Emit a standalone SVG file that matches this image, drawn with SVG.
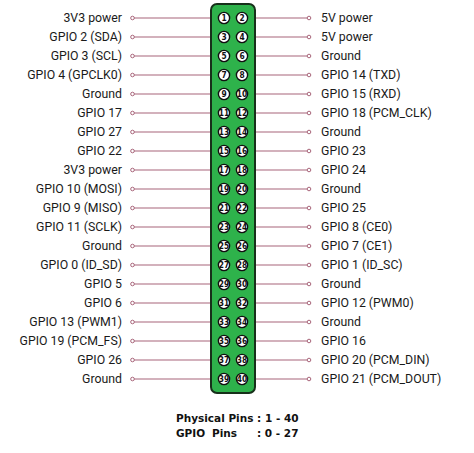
<svg xmlns="http://www.w3.org/2000/svg" width="474" height="453" viewBox="0 0 474 453">
<style>
.lbl{font-family:Roboto,"Liberation Sans",sans-serif;font-size:12.3px;fill:#1a1a1a}
.l{text-anchor:end}
.ln{stroke:#a8657a;stroke-width:1.2;fill:none}
.dot{fill:#fff;stroke:#a8657a;stroke-width:1}
.pin{fill:#fff;stroke:#111;stroke-width:1.4}
.pn{font-family:"DejaVu Sans Condensed","DejaVu Sans","Liberation Sans",sans-serif;font-weight:bold;font-size:8.3px;fill:#111;text-anchor:middle}
.ft{font-family:"DejaVu Sans","Liberation Sans",sans-serif;font-weight:bold;font-size:10.5px;fill:#111}
</style>
<g id="connectors">
<path class="ln" d="M134,18H211M134,37H211M134,56H211M134,75H211M134,94H211M134,113H211M134,132H211M134,151H211M134,170H211M134,189H211M134,208H211M134,227H211M134,246H211M134,265H211M134,284H211M134,303H211M134,322H211M134,341H211M134,360H211M134,379H211"/>
<path class="ln" d="M255,18H307M255,37H307M255,56H307M255,75H307M255,94H307M255,113H307M255,132H307M255,151H307M255,170H307M255,189H307M255,208H307M255,227H307M255,246H307M255,265H307M255,284H307M255,303H307M255,322H307M255,341H307M255,360H307M255,379H307"/>
</g>
<g id="header">
<rect x="211" y="4" width="44" height="389" rx="6" fill="#2eb24b" stroke="#17301a" stroke-width="2"/>
</g>
<g id="pins">
<g id="r1"><circle class="pin" cx="224" cy="18" r="5.6"/><circle class="pin" cx="242" cy="18" r="5.6"/><text class="pn" x="224" y="21">1</text><text class="pn" x="242" y="21">2</text></g>
<g id="r2"><circle class="pin" cx="224" cy="37" r="5.6"/><circle class="pin" cx="242" cy="37" r="5.6"/><text class="pn" x="224" y="40">3</text><text class="pn" x="242" y="40">4</text></g>
<g id="r3"><circle class="pin" cx="224" cy="56" r="5.6"/><circle class="pin" cx="242" cy="56" r="5.6"/><text class="pn" x="224" y="59">5</text><text class="pn" x="242" y="59">6</text></g>
<g id="r4"><circle class="pin" cx="224" cy="75" r="5.6"/><circle class="pin" cx="242" cy="75" r="5.6"/><text class="pn" x="224" y="78">7</text><text class="pn" x="242" y="78">8</text></g>
<g id="r5"><circle class="pin" cx="224" cy="94" r="5.6"/><circle class="pin" cx="242" cy="94" r="5.6"/><text class="pn" x="224" y="97">9</text><text class="pn" x="242" y="97">10</text></g>
<g id="r6"><circle class="pin" cx="224" cy="113" r="5.6"/><circle class="pin" cx="242" cy="113" r="5.6"/><text class="pn" x="224" y="116">11</text><text class="pn" x="242" y="116">12</text></g>
<g id="r7"><circle class="pin" cx="224" cy="132" r="5.6"/><circle class="pin" cx="242" cy="132" r="5.6"/><text class="pn" x="224" y="135">13</text><text class="pn" x="242" y="135">14</text></g>
<g id="r8"><circle class="pin" cx="224" cy="151" r="5.6"/><circle class="pin" cx="242" cy="151" r="5.6"/><text class="pn" x="224" y="154">15</text><text class="pn" x="242" y="154">16</text></g>
<g id="r9"><circle class="pin" cx="224" cy="170" r="5.6"/><circle class="pin" cx="242" cy="170" r="5.6"/><text class="pn" x="224" y="173">17</text><text class="pn" x="242" y="173">18</text></g>
<g id="r10"><circle class="pin" cx="224" cy="189" r="5.6"/><circle class="pin" cx="242" cy="189" r="5.6"/><text class="pn" x="224" y="192">19</text><text class="pn" x="242" y="192">20</text></g>
<g id="r11"><circle class="pin" cx="224" cy="208" r="5.6"/><circle class="pin" cx="242" cy="208" r="5.6"/><text class="pn" x="224" y="211">21</text><text class="pn" x="242" y="211">22</text></g>
<g id="r12"><circle class="pin" cx="224" cy="227" r="5.6"/><circle class="pin" cx="242" cy="227" r="5.6"/><text class="pn" x="224" y="230">23</text><text class="pn" x="242" y="230">24</text></g>
<g id="r13"><circle class="pin" cx="224" cy="246" r="5.6"/><circle class="pin" cx="242" cy="246" r="5.6"/><text class="pn" x="224" y="249">25</text><text class="pn" x="242" y="249">26</text></g>
<g id="r14"><circle class="pin" cx="224" cy="265" r="5.6"/><circle class="pin" cx="242" cy="265" r="5.6"/><text class="pn" x="224" y="268">27</text><text class="pn" x="242" y="268">28</text></g>
<g id="r15"><circle class="pin" cx="224" cy="284" r="5.6"/><circle class="pin" cx="242" cy="284" r="5.6"/><text class="pn" x="224" y="287">29</text><text class="pn" x="242" y="287">30</text></g>
<g id="r16"><circle class="pin" cx="224" cy="303" r="5.6"/><circle class="pin" cx="242" cy="303" r="5.6"/><text class="pn" x="224" y="306">31</text><text class="pn" x="242" y="306">32</text></g>
<g id="r17"><circle class="pin" cx="224" cy="322" r="5.6"/><circle class="pin" cx="242" cy="322" r="5.6"/><text class="pn" x="224" y="325">33</text><text class="pn" x="242" y="325">34</text></g>
<g id="r18"><circle class="pin" cx="224" cy="341" r="5.6"/><circle class="pin" cx="242" cy="341" r="5.6"/><text class="pn" x="224" y="344">35</text><text class="pn" x="242" y="344">36</text></g>
<g id="r19"><circle class="pin" cx="224" cy="360" r="5.6"/><circle class="pin" cx="242" cy="360" r="5.6"/><text class="pn" x="224" y="363">37</text><text class="pn" x="242" y="363">38</text></g>
<g id="r20"><circle class="pin" cx="224" cy="379" r="5.6"/><circle class="pin" cx="242" cy="379" r="5.6"/><text class="pn" x="224" y="382">39</text><text class="pn" x="242" y="382">40</text></g>
</g>
<g id="left-labels">
<g id="L1"><circle class="dot" cx="132.5" cy="18" r="1.8"/><text class="lbl l" x="122" y="22.3">3V3 power</text></g>
<g id="L3"><circle class="dot" cx="132.5" cy="37" r="1.8"/><text class="lbl l" x="122" y="41.3">GPIO 2 (SDA)</text></g>
<g id="L5"><circle class="dot" cx="132.5" cy="56" r="1.8"/><text class="lbl l" x="122" y="60.3">GPIO 3 (SCL)</text></g>
<g id="L7"><circle class="dot" cx="132.5" cy="75" r="1.8"/><text class="lbl l" x="122" y="79.3">GPIO 4 (GPCLK0)</text></g>
<g id="L9"><circle class="dot" cx="132.5" cy="94" r="1.8"/><text class="lbl l" x="122" y="98.3">Ground</text></g>
<g id="L11"><circle class="dot" cx="132.5" cy="113" r="1.8"/><text class="lbl l" x="122" y="117.3">GPIO 17</text></g>
<g id="L13"><circle class="dot" cx="132.5" cy="132" r="1.8"/><text class="lbl l" x="122" y="136.3">GPIO 27</text></g>
<g id="L15"><circle class="dot" cx="132.5" cy="151" r="1.8"/><text class="lbl l" x="122" y="155.3">GPIO 22</text></g>
<g id="L17"><circle class="dot" cx="132.5" cy="170" r="1.8"/><text class="lbl l" x="122" y="174.3">3V3 power</text></g>
<g id="L19"><circle class="dot" cx="132.5" cy="189" r="1.8"/><text class="lbl l" x="122" y="193.3">GPIO 10 (MOSI)</text></g>
<g id="L21"><circle class="dot" cx="132.5" cy="208" r="1.8"/><text class="lbl l" x="122" y="212.3">GPIO 9 (MISO)</text></g>
<g id="L23"><circle class="dot" cx="132.5" cy="227" r="1.8"/><text class="lbl l" x="122" y="231.3">GPIO 11 (SCLK)</text></g>
<g id="L25"><circle class="dot" cx="132.5" cy="246" r="1.8"/><text class="lbl l" x="122" y="250.3">Ground</text></g>
<g id="L27"><circle class="dot" cx="132.5" cy="265" r="1.8"/><text class="lbl l" x="122" y="269.3">GPIO 0 (ID_SD)</text></g>
<g id="L29"><circle class="dot" cx="132.5" cy="284" r="1.8"/><text class="lbl l" x="122" y="288.3">GPIO 5</text></g>
<g id="L31"><circle class="dot" cx="132.5" cy="303" r="1.8"/><text class="lbl l" x="122" y="307.3">GPIO 6</text></g>
<g id="L33"><circle class="dot" cx="132.5" cy="322" r="1.8"/><text class="lbl l" x="122" y="326.3">GPIO 13 (PWM1)</text></g>
<g id="L35"><circle class="dot" cx="132.5" cy="341" r="1.8"/><text class="lbl l" x="122" y="345.3">GPIO 19 (PCM_FS)</text></g>
<g id="L37"><circle class="dot" cx="132.5" cy="360" r="1.8"/><text class="lbl l" x="122" y="364.3">GPIO 26</text></g>
<g id="L39"><circle class="dot" cx="132.5" cy="379" r="1.8"/><text class="lbl l" x="122" y="383.3">Ground</text></g>
</g>
<g id="right-labels">
<g id="R2"><circle class="dot" cx="309" cy="18" r="1.8"/><text class="lbl" x="321" y="22.3">5V power</text></g>
<g id="R4"><circle class="dot" cx="309" cy="37" r="1.8"/><text class="lbl" x="321" y="41.3">5V power</text></g>
<g id="R6"><circle class="dot" cx="309" cy="56" r="1.8"/><text class="lbl" x="321" y="60.3">Ground</text></g>
<g id="R8"><circle class="dot" cx="309" cy="75" r="1.8"/><text class="lbl" x="321" y="79.3">GPIO 14 (TXD)</text></g>
<g id="R10"><circle class="dot" cx="309" cy="94" r="1.8"/><text class="lbl" x="321" y="98.3">GPIO 15 (RXD)</text></g>
<g id="R12"><circle class="dot" cx="309" cy="113" r="1.8"/><text class="lbl" x="321" y="117.3">GPIO 18 (PCM_CLK)</text></g>
<g id="R14"><circle class="dot" cx="309" cy="132" r="1.8"/><text class="lbl" x="321" y="136.3">Ground</text></g>
<g id="R16"><circle class="dot" cx="309" cy="151" r="1.8"/><text class="lbl" x="321" y="155.3">GPIO 23</text></g>
<g id="R18"><circle class="dot" cx="309" cy="170" r="1.8"/><text class="lbl" x="321" y="174.3">GPIO 24</text></g>
<g id="R20"><circle class="dot" cx="309" cy="189" r="1.8"/><text class="lbl" x="321" y="193.3">Ground</text></g>
<g id="R22"><circle class="dot" cx="309" cy="208" r="1.8"/><text class="lbl" x="321" y="212.3">GPIO 25</text></g>
<g id="R24"><circle class="dot" cx="309" cy="227" r="1.8"/><text class="lbl" x="321" y="231.3">GPIO 8 (CE0)</text></g>
<g id="R26"><circle class="dot" cx="309" cy="246" r="1.8"/><text class="lbl" x="321" y="250.3">GPIO 7 (CE1)</text></g>
<g id="R28"><circle class="dot" cx="309" cy="265" r="1.8"/><text class="lbl" x="321" y="269.3">GPIO 1 (ID_SC)</text></g>
<g id="R30"><circle class="dot" cx="309" cy="284" r="1.8"/><text class="lbl" x="321" y="288.3">Ground</text></g>
<g id="R32"><circle class="dot" cx="309" cy="303" r="1.8"/><text class="lbl" x="321" y="307.3">GPIO 12 (PWM0)</text></g>
<g id="R34"><circle class="dot" cx="309" cy="322" r="1.8"/><text class="lbl" x="321" y="326.3">Ground</text></g>
<g id="R36"><circle class="dot" cx="309" cy="341" r="1.8"/><text class="lbl" x="321" y="345.3">GPIO 16</text></g>
<g id="R38"><circle class="dot" cx="309" cy="360" r="1.8"/><text class="lbl" x="321" y="364.3">GPIO 20 (PCM_DIN)</text></g>
<g id="R40"><circle class="dot" cx="309" cy="379" r="1.8"/><text class="lbl" x="321" y="383.3">GPIO 21 (PCM_DOUT)</text></g>
</g>
<g id="footer">
<text class="ft" x="176" y="422">Physical Pins : 1 - 40</text>
<text class="ft" x="176" y="437">GPIO</text>
<text class="ft" x="212" y="437">Pins</text>
<text class="ft" x="257" y="437">: 0 - 27</text>
</g>
</svg>
